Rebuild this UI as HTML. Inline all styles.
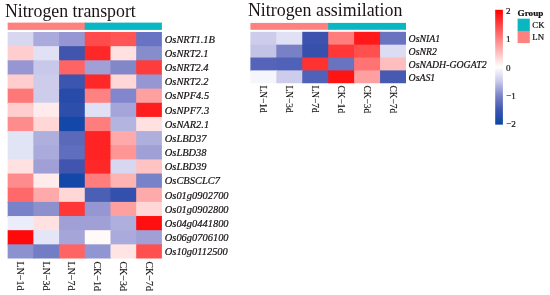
<!DOCTYPE html>
<html><head><meta charset="utf-8"><title>Heatmap</title>
<style>
html,body{margin:0;padding:0;background:#fff;}
body{width:550px;height:295px;overflow:hidden;}
svg{display:block;}
svg text{font-family:"Liberation Serif","Times New Roman",serif;fill:#151010;stroke:#151010;stroke-width:0.2px;}
svg text.c{stroke-width:0.1px;}
svg text.t{stroke:none;fill:#1c1414;}
</style></head><body>
<svg width="550" height="295" viewBox="0 0 550 295">
<defs><linearGradient id="cb" x1="0" y1="0" x2="0" y2="1">
<stop offset="0" stop-color="#ff0000"/>
<stop offset="0.25" stop-color="#ff8080"/>
<stop offset="0.5" stop-color="#ffffff"/>
<stop offset="0.625" stop-color="#c8c8eb"/>
<stop offset="0.75" stop-color="#7882c8"/>
<stop offset="0.875" stop-color="#3c55af"/>
<stop offset="1" stop-color="#0a46a5"/>
</linearGradient></defs>
<rect width="550" height="295" fill="#ffffff"/>
<rect x="7.65" y="22.60" width="78.12" height="7.30" fill="#fd827f"/>
<rect x="84.78" y="22.60" width="77.12" height="7.30" fill="#08b7c1"/>
<rect x="7.65" y="32.00" width="26.71" height="15.16" fill="rgb(215,215,240)"/>
<rect x="33.36" y="32.00" width="26.71" height="15.16" fill="rgb(170,170,220)"/>
<rect x="59.07" y="32.00" width="26.71" height="15.16" fill="rgb(150,150,210)"/>
<rect x="84.78" y="32.00" width="26.71" height="15.16" fill="rgb(255,75,75)"/>
<rect x="110.48" y="32.00" width="26.71" height="15.16" fill="rgb(255,85,85)"/>
<rect x="136.19" y="32.00" width="25.71" height="15.16" fill="rgb(105,115,195)"/>
<rect x="7.65" y="46.16" width="26.71" height="15.16" fill="rgb(255,205,205)"/>
<rect x="33.36" y="46.16" width="26.71" height="15.16" fill="rgb(225,225,245)"/>
<rect x="59.07" y="46.16" width="26.71" height="15.16" fill="rgb(65,85,175)"/>
<rect x="84.78" y="46.16" width="26.71" height="15.16" fill="rgb(255,40,40)"/>
<rect x="110.48" y="46.16" width="26.71" height="15.16" fill="rgb(255,225,225)"/>
<rect x="136.19" y="46.16" width="25.71" height="15.16" fill="rgb(135,140,205)"/>
<rect x="7.65" y="60.31" width="26.71" height="15.16" fill="rgb(150,150,210)"/>
<rect x="33.36" y="60.31" width="26.71" height="15.16" fill="rgb(200,200,235)"/>
<rect x="59.07" y="60.31" width="26.71" height="15.16" fill="rgb(255,100,100)"/>
<rect x="84.78" y="60.31" width="26.71" height="15.16" fill="rgb(160,160,215)"/>
<rect x="110.48" y="60.31" width="26.71" height="15.16" fill="rgb(130,135,200)"/>
<rect x="136.19" y="60.31" width="25.71" height="15.16" fill="rgb(255,60,60)"/>
<rect x="7.65" y="74.47" width="26.71" height="15.16" fill="rgb(255,205,205)"/>
<rect x="33.36" y="74.47" width="26.71" height="15.16" fill="rgb(205,205,235)"/>
<rect x="59.07" y="74.47" width="26.71" height="15.16" fill="rgb(60,85,175)"/>
<rect x="84.78" y="74.47" width="26.71" height="15.16" fill="rgb(255,40,40)"/>
<rect x="110.48" y="74.47" width="26.71" height="15.16" fill="rgb(255,215,215)"/>
<rect x="136.19" y="74.47" width="25.71" height="15.16" fill="rgb(150,150,210)"/>
<rect x="7.65" y="88.62" width="26.71" height="15.16" fill="rgb(255,120,120)"/>
<rect x="33.36" y="88.62" width="26.71" height="15.16" fill="rgb(205,205,235)"/>
<rect x="59.07" y="88.62" width="26.71" height="15.16" fill="rgb(40,75,170)"/>
<rect x="84.78" y="88.62" width="26.71" height="15.16" fill="rgb(255,130,130)"/>
<rect x="110.48" y="88.62" width="26.71" height="15.16" fill="rgb(130,135,205)"/>
<rect x="136.19" y="88.62" width="25.71" height="15.16" fill="rgb(255,160,160)"/>
<rect x="7.65" y="102.78" width="26.71" height="15.16" fill="rgb(255,205,205)"/>
<rect x="33.36" y="102.78" width="26.71" height="15.16" fill="rgb(255,235,235)"/>
<rect x="59.07" y="102.78" width="26.71" height="15.16" fill="rgb(45,78,170)"/>
<rect x="84.78" y="102.78" width="26.71" height="15.16" fill="rgb(225,225,245)"/>
<rect x="110.48" y="102.78" width="26.71" height="15.16" fill="rgb(165,165,218)"/>
<rect x="136.19" y="102.78" width="25.71" height="15.16" fill="rgb(255,30,30)"/>
<rect x="7.65" y="116.94" width="26.71" height="15.16" fill="rgb(255,140,140)"/>
<rect x="33.36" y="116.94" width="26.71" height="15.16" fill="rgb(255,215,215)"/>
<rect x="59.07" y="116.94" width="26.71" height="15.16" fill="rgb(20,72,168)"/>
<rect x="84.78" y="116.94" width="26.71" height="15.16" fill="rgb(255,125,125)"/>
<rect x="110.48" y="116.94" width="26.71" height="15.16" fill="rgb(180,180,225)"/>
<rect x="136.19" y="116.94" width="25.71" height="15.16" fill="rgb(255,225,225)"/>
<rect x="7.65" y="131.09" width="26.71" height="15.16" fill="rgb(225,228,245)"/>
<rect x="33.36" y="131.09" width="26.71" height="15.16" fill="rgb(175,175,222)"/>
<rect x="59.07" y="131.09" width="26.71" height="15.16" fill="rgb(90,105,185)"/>
<rect x="84.78" y="131.09" width="26.71" height="15.16" fill="rgb(255,35,35)"/>
<rect x="110.48" y="131.09" width="26.71" height="15.16" fill="rgb(255,170,170)"/>
<rect x="136.19" y="131.09" width="25.71" height="15.16" fill="rgb(175,175,222)"/>
<rect x="7.65" y="145.25" width="26.71" height="15.16" fill="rgb(225,228,245)"/>
<rect x="33.36" y="145.25" width="26.71" height="15.16" fill="rgb(170,170,220)"/>
<rect x="59.07" y="145.25" width="26.71" height="15.16" fill="rgb(95,110,190)"/>
<rect x="84.78" y="145.25" width="26.71" height="15.16" fill="rgb(255,35,35)"/>
<rect x="110.48" y="145.25" width="26.71" height="15.16" fill="rgb(255,150,150)"/>
<rect x="136.19" y="145.25" width="25.71" height="15.16" fill="rgb(160,160,215)"/>
<rect x="7.65" y="159.41" width="26.71" height="15.16" fill="rgb(255,225,225)"/>
<rect x="33.36" y="159.41" width="26.71" height="15.16" fill="rgb(160,160,215)"/>
<rect x="59.07" y="159.41" width="26.71" height="15.16" fill="rgb(65,85,175)"/>
<rect x="84.78" y="159.41" width="26.71" height="15.16" fill="rgb(255,40,40)"/>
<rect x="110.48" y="159.41" width="26.71" height="15.16" fill="rgb(215,215,240)"/>
<rect x="136.19" y="159.41" width="25.71" height="15.16" fill="rgb(255,195,195)"/>
<rect x="7.65" y="173.56" width="26.71" height="15.16" fill="rgb(255,140,140)"/>
<rect x="33.36" y="173.56" width="26.71" height="15.16" fill="rgb(255,235,235)"/>
<rect x="59.07" y="173.56" width="26.71" height="15.16" fill="rgb(20,72,168)"/>
<rect x="84.78" y="173.56" width="26.71" height="15.16" fill="rgb(255,125,125)"/>
<rect x="110.48" y="173.56" width="26.71" height="15.16" fill="rgb(255,180,180)"/>
<rect x="136.19" y="173.56" width="25.71" height="15.16" fill="rgb(120,130,200)"/>
<rect x="7.65" y="187.72" width="26.71" height="15.16" fill="rgb(255,105,105)"/>
<rect x="33.36" y="187.72" width="26.71" height="15.16" fill="rgb(255,170,170)"/>
<rect x="59.07" y="187.72" width="26.71" height="15.16" fill="rgb(255,215,215)"/>
<rect x="84.78" y="187.72" width="26.71" height="15.16" fill="rgb(75,95,180)"/>
<rect x="110.48" y="187.72" width="26.71" height="15.16" fill="rgb(50,80,172)"/>
<rect x="136.19" y="187.72" width="25.71" height="15.16" fill="rgb(255,170,170)"/>
<rect x="7.65" y="201.88" width="26.71" height="15.16" fill="rgb(120,130,200)"/>
<rect x="33.36" y="201.88" width="26.71" height="15.16" fill="rgb(140,145,205)"/>
<rect x="59.07" y="201.88" width="26.71" height="15.16" fill="rgb(255,55,55)"/>
<rect x="84.78" y="201.88" width="26.71" height="15.16" fill="rgb(150,150,210)"/>
<rect x="110.48" y="201.88" width="26.71" height="15.16" fill="rgb(255,160,160)"/>
<rect x="136.19" y="201.88" width="25.71" height="15.16" fill="rgb(255,215,215)"/>
<rect x="7.65" y="216.03" width="26.71" height="15.16" fill="rgb(235,238,250)"/>
<rect x="33.36" y="216.03" width="26.71" height="15.16" fill="rgb(255,225,225)"/>
<rect x="59.07" y="216.03" width="26.71" height="15.16" fill="rgb(160,160,215)"/>
<rect x="84.78" y="216.03" width="26.71" height="15.16" fill="rgb(160,160,215)"/>
<rect x="110.48" y="216.03" width="26.71" height="15.16" fill="rgb(175,175,222)"/>
<rect x="136.19" y="216.03" width="25.71" height="15.16" fill="rgb(255,15,15)"/>
<rect x="7.65" y="230.19" width="26.71" height="15.16" fill="rgb(255,10,10)"/>
<rect x="33.36" y="230.19" width="26.71" height="15.16" fill="rgb(228,230,247)"/>
<rect x="59.07" y="230.19" width="26.71" height="15.16" fill="rgb(165,165,218)"/>
<rect x="84.78" y="230.19" width="26.71" height="15.16" fill="rgb(255,250,248)"/>
<rect x="110.48" y="230.19" width="26.71" height="15.16" fill="rgb(170,170,220)"/>
<rect x="136.19" y="230.19" width="25.71" height="15.16" fill="rgb(160,160,215)"/>
<rect x="7.65" y="244.34" width="26.71" height="14.16" fill="rgb(140,145,208)"/>
<rect x="33.36" y="244.34" width="26.71" height="14.16" fill="rgb(115,125,198)"/>
<rect x="59.07" y="244.34" width="26.71" height="14.16" fill="rgb(255,100,100)"/>
<rect x="84.78" y="244.34" width="26.71" height="14.16" fill="rgb(145,150,210)"/>
<rect x="110.48" y="244.34" width="26.71" height="14.16" fill="rgb(255,228,228)"/>
<rect x="136.19" y="244.34" width="25.71" height="14.16" fill="rgb(255,80,80)"/>
<text x="164.8" y="42.63" font-size="10.45" font-style="italic">OsNRT1.1B</text>
<text x="164.8" y="56.82" font-size="10.45" font-style="italic">OsNRT2.1</text>
<text x="164.8" y="71.00" font-size="10.45" font-style="italic">OsNRT2.4</text>
<text x="164.8" y="85.19" font-size="10.45" font-style="italic">OsNRT2.2</text>
<text x="164.8" y="99.37" font-size="10.45" font-style="italic">OsNPF4.5</text>
<text x="164.8" y="113.56" font-size="10.45" font-style="italic">OsNPF7.3</text>
<text x="164.8" y="127.75" font-size="10.45" font-style="italic">OsNAR2.1</text>
<text x="164.8" y="141.93" font-size="10.45" font-style="italic">OsLBD37</text>
<text x="164.8" y="156.12" font-size="10.45" font-style="italic">OsLBD38</text>
<text x="164.8" y="170.31" font-size="10.45" font-style="italic">OsLBD39</text>
<text x="164.8" y="184.49" font-size="10.45" font-style="italic">OsCBSCLC7</text>
<text x="164.8" y="198.68" font-size="10.45" font-style="italic">Os01g0902700</text>
<text x="164.8" y="212.86" font-size="10.45" font-style="italic">Os01g0902800</text>
<text x="164.8" y="227.05" font-size="10.45" font-style="italic">Os04g0441800</text>
<text x="164.8" y="241.24" font-size="10.45" font-style="italic">Os06g0706100</text>
<text x="164.8" y="255.42" font-size="10.45" font-style="italic">Os10g0112500</text>
<text transform="translate(16.99,261.4) rotate(90)" class="c" font-size="10.05">LN−1d</text>
<text transform="translate(42.70,261.4) rotate(90)" class="c" font-size="10.05">LN−3d</text>
<text transform="translate(68.40,261.4) rotate(90)" class="c" font-size="10.05">LN−7d</text>
<text transform="translate(94.11,261.4) rotate(90)" class="c" font-size="10.05">CK−1d</text>
<text transform="translate(119.82,261.4) rotate(90)" class="c" font-size="10.05">CK−3d</text>
<text transform="translate(145.53,261.4) rotate(90)" class="c" font-size="10.05">CK−7d</text>
<rect x="250.40" y="22.90" width="78.80" height="6.90" fill="#fd827f"/>
<rect x="328.20" y="22.90" width="77.80" height="6.90" fill="#08b7c1"/>
<rect x="250.40" y="31.80" width="26.93" height="13.86" fill="rgb(205,205,235)"/>
<rect x="276.33" y="31.80" width="26.93" height="13.86" fill="rgb(225,225,245)"/>
<rect x="302.27" y="31.80" width="26.93" height="13.86" fill="rgb(60,82,172)"/>
<rect x="328.20" y="31.80" width="26.93" height="13.86" fill="rgb(255,125,125)"/>
<rect x="354.13" y="31.80" width="26.93" height="13.86" fill="rgb(255,25,25)"/>
<rect x="380.07" y="31.80" width="25.93" height="13.86" fill="rgb(105,115,192)"/>
<rect x="250.40" y="44.66" width="26.93" height="13.86" fill="rgb(195,195,230)"/>
<rect x="276.33" y="44.66" width="26.93" height="13.86" fill="rgb(120,128,198)"/>
<rect x="302.27" y="44.66" width="26.93" height="13.86" fill="rgb(55,80,172)"/>
<rect x="328.20" y="44.66" width="26.93" height="13.86" fill="rgb(255,55,55)"/>
<rect x="354.13" y="44.66" width="26.93" height="13.86" fill="rgb(255,80,80)"/>
<rect x="380.07" y="44.66" width="25.93" height="13.86" fill="rgb(220,220,242)"/>
<rect x="250.40" y="57.53" width="26.93" height="13.86" fill="rgb(85,100,185)"/>
<rect x="276.33" y="57.53" width="26.93" height="13.86" fill="rgb(80,98,183)"/>
<rect x="302.27" y="57.53" width="26.93" height="13.86" fill="rgb(255,50,50)"/>
<rect x="328.20" y="57.53" width="26.93" height="13.86" fill="rgb(105,115,192)"/>
<rect x="354.13" y="57.53" width="26.93" height="13.86" fill="rgb(255,115,115)"/>
<rect x="380.07" y="57.53" width="25.93" height="13.86" fill="rgb(255,190,190)"/>
<rect x="250.40" y="70.39" width="26.93" height="12.86" fill="rgb(245,245,252)"/>
<rect x="276.33" y="70.39" width="26.93" height="12.86" fill="rgb(205,205,235)"/>
<rect x="302.27" y="70.39" width="26.93" height="12.86" fill="rgb(80,98,183)"/>
<rect x="328.20" y="70.39" width="26.93" height="12.86" fill="rgb(255,20,20)"/>
<rect x="354.13" y="70.39" width="26.93" height="12.86" fill="rgb(255,160,160)"/>
<rect x="380.07" y="70.39" width="25.93" height="12.86" fill="rgb(70,90,178)"/>
<text x="408.6" y="42.06" font-size="9.8" font-style="italic">OsNIA1</text>
<text x="408.6" y="54.93" font-size="9.8" font-style="italic">OsNR2</text>
<text x="408.6" y="67.79" font-size="9.8" font-style="italic">OsNADH-GOGAT2</text>
<text x="408.6" y="80.65" font-size="9.8" font-style="italic">OsAS1</text>
<text transform="translate(260.08,85.5) rotate(90)" class="c" font-size="9.4">LN−1d</text>
<text transform="translate(286.01,85.5) rotate(90)" class="c" font-size="9.4">LN−3d</text>
<text transform="translate(311.94,85.5) rotate(90)" class="c" font-size="9.4">LN−7d</text>
<text transform="translate(337.88,85.5) rotate(90)" class="c" font-size="9.4">CK−1d</text>
<text transform="translate(363.81,85.5) rotate(90)" class="c" font-size="9.4">CK−3d</text>
<text transform="translate(389.74,85.5) rotate(90)" class="c" font-size="9.4">CK−7d</text>
<text x="4.9" y="17.15" font-size="17.8" class="t">Nitrogen transport</text>
<text x="247.9" y="15.75" font-size="17.9" class="t">Nitrogen assimilation</text>
<rect x="495.2" y="9.8" width="7.7" height="114.85" fill="url(#cb)"/>
<text x="506.0" y="13.90" font-size="9.1">2</text>
<text x="506.0" y="42.30" font-size="9.1">1</text>
<text x="506.0" y="70.70" font-size="9.1">0</text>
<text x="506.0" y="99.00" font-size="9.1">−1</text>
<text x="506.0" y="127.30" font-size="9.1">−2</text>
<text x="517.5" y="16.0" font-size="9.2" font-weight="bold">Group</text>
<rect x="517.60" y="18.70" width="12.20" height="12.30" fill="#08b7c1"/>
<rect x="517.60" y="30.90" width="12.20" height="12.20" fill="#fd827f"/>
<text x="532.3" y="28.2" font-size="8.8">CK</text>
<text x="532.3" y="40.45" font-size="8.8">LN</text>
</svg>
</body></html>
